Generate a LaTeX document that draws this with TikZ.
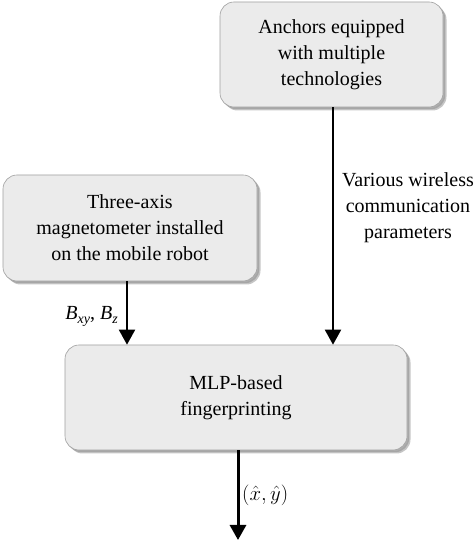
\documentclass[tikz,border=0pt]{standalone}
\usepackage{fontspec}
\setmainfont{Liberation Serif}
\usetikzlibrary{arrows.meta,shadows}
\definecolor{boxfill}{HTML}{EBEBEB}
\begin{document}
\begin{tikzpicture}[x=1pt,y=1pt,
  box/.style={draw=gray!75, line width=0.6pt, fill=boxfill, rounded corners=14pt,
    align=center, font={\fontsize{20}{26}\selectfont}, inner sep=0pt,
    general shadow={shadow xshift=3.5pt,shadow yshift=-3.5pt,fill=gray!90,opacity=.5},
    general shadow={shadow xshift=2.2pt,shadow yshift=-2.2pt,fill=gray!80,opacity=.7},
    general shadow={shadow xshift=1pt,shadow yshift=-1pt,fill=gray!60,opacity=.8}},
  arr/.style={-{Triangle[width=16pt,length=15pt]}, line width=2pt},
  lbl/.style={align=center, font={\fontsize{20}{26}\selectfont}, inner sep=0pt}]
\useasboundingbox (0,0) rectangle (474,540);
\node[box, minimum width=223pt, minimum height=105pt] (top) at (331.5,485.5)
  {Anchors equipped\\with multiple\\technologies};
\node[box, minimum width=254pt, minimum height=106pt] (left) at (130,312)
  {Three-axis\\magnetometer installed\\on the mobile robot};
\node[box, minimum width=342pt, minimum height=105pt] (main) at (236,142.5)
  {\raisebox{5pt}{\begin{tabular}{@{}c@{}}MLP-based\\fingerprinting\end{tabular}}};
\coordinate (out) at (238,0);
\draw[arr] ([xshift=1.5pt]top.south) -- ([xshift=1.5pt]top.south |- main.north);
\draw[arr] ([xshift=-3pt]left.south) -- ([xshift=-3pt]left.south |- main.north);
\draw[arr, line width=3pt] (main.south -| out) -- (out);
\node[lbl] (wl) at (408,332) {Various wireless\\communication\\parameters};
\node[lbl, anchor=east, font={\fontsize{20}{22}\selectfont}] (bl) at (118,224)
  {\textit{B}\raisebox{-4pt}{\fontsize{14}{14}\selectfont\itshape xy}, \textit{B}\raisebox{-4pt}{\fontsize{14}{14}\selectfont\itshape z}};
\node[lbl, anchor=west] (xy) at (242,45) {$(\hat{x},\hat{y})$};
\end{tikzpicture}
\end{document}
